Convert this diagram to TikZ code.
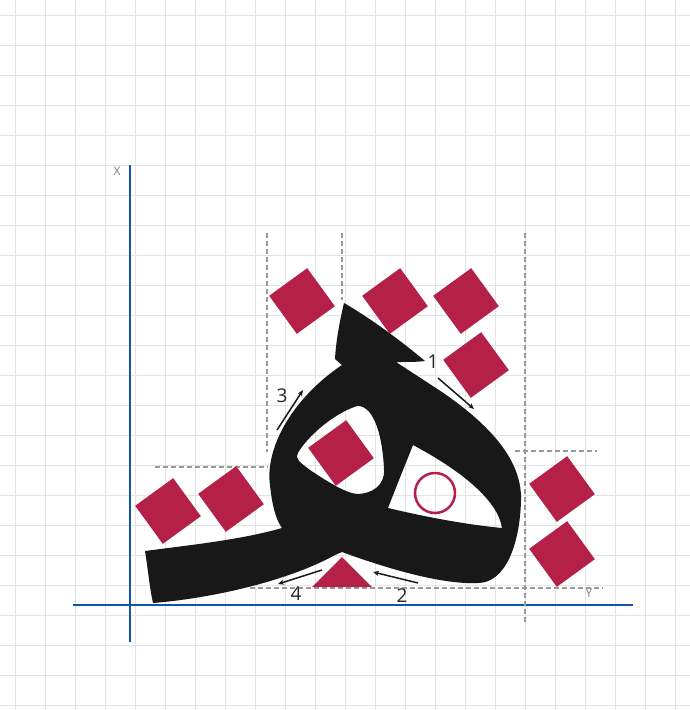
\documentclass[tikz,border=0pt]{standalone}
\usepackage{fontspec}
\setmainfont{Open Sans}
\usetikzlibrary{arrows.meta}
\begin{document}
\begin{tikzpicture}[x=1pt,y=-1pt,
  guide/.style={draw=gray!80,line width=1.1pt,dash pattern=on 5pt off 3pt},
  arr/.style={-{Stealth[length=6pt,width=5pt]},line width=1.5pt,draw=black!90},
  num/.style={font=\fontsize{19}{19}\selectfont,text=black!85,inner sep=0pt}]
\definecolor{crim}{HTML}{B52048}
\definecolor{ink}{HTML}{181818}
\definecolor{axis}{HTML}{0B57A8}
\path[use as bounding box,fill=white] (0,0) rectangle (690,710);
\foreach \i in {15,45,...,675} {\draw[gray!22,line width=0.8pt] (\i,0) -- (\i,710);}
\foreach \i in {15,45,...,705} {\draw[gray!22,line width=0.8pt] (0,\i) -- (690,\i);}
% axes
\draw[axis,line width=1.8pt] (130,165) -- (130,642);
\draw[axis,line width=1.8pt] (73,605) -- (633,605);
\node[text=gray,font=\fontsize{12}{12}\selectfont] (xl) at (117,171) {X};
\node[text=gray,font=\fontsize{12}{12}\selectfont] (yl) at (589,593) {Y};
% guides
\draw[guide] (267,233) -- (267,452);
\draw[guide] (342,233) -- (342,300);
\draw[guide] (525,233) -- (525,625);
\draw[guide] (155,467) -- (268,467);
\draw[guide] (515,451) -- (597,451);
\draw[guide] (250,588) -- (603,588);
% diamonds
\foreach \cx/\cy in {302/301,395/301,466/301,476/365,341/453,168/511,231/499,562/489,562/554}
  {\fill[crim,rotate around={36:(\cx,\cy)}] (\cx-23.5,\cy-23.5) rectangle (\cx+23.5,\cy+23.5);}
% letter
\fill[ink,even odd rule]
  (153,603) .. controls (215,598) and (290,580) .. (335,555)
  -- (342,552) .. controls (380,566) and (440,585) .. (478,583)
  .. controls (505,583) and (520,545) .. (521,500)
  .. controls (522,460) and (490,425) .. (442,392)
  -- (396,362)
  .. controls (408,362) and (418,362) .. (425,361)
  .. controls (400,340) and (370,318) .. (344,303)
  .. controls (340,320) and (336,340) .. (335,359)
  -- (342,365)
  .. controls (290,400) and (265,450) .. (270,485)
  .. controls (272,505) and (276,520) .. (282,528)
  .. controls (240,540) and (190,545) .. (145,551)
  .. controls (148,570) and (150,590) .. (153,603) -- cycle
  (357,406) .. controls (330,415) and (305,440) .. (298,453)
  .. controls (295,460) and (300,462) .. (310,470)
  .. controls (325,480) and (345,493) .. (357,494)
  .. controls (372,494) and (385,485) .. (384,470)
  .. controls (383,440) and (375,405) .. (357,406) -- cycle
  (413,445) .. controls (405,465) and (395,490) .. (388,508)
  .. controls (430,518) and (470,525) .. (502,528)
  .. controls (498,500) and (460,470) .. (413,445) -- cycle;
\draw[crim,line width=2.5pt] (435,493) circle (20);
\fill[crim] (342,557) -- (372,587) -- (312,587) -- cycle;
% arrows
\coordinate (a1s) at (438,378); \coordinate (a1e) at (474,409);
\coordinate (a2s) at (418,583); \coordinate (a2e) at (373,572);
\coordinate (a3s) at (277,430); \coordinate (a3e) at (303,390);
\coordinate (a4s) at (322,570); \coordinate (a4e) at (278,584);
\draw[arr] (a1s) -- (a1e);
\draw[arr] (a2s) -- (a2e);
\draw[arr] (a3s) -- (a3e);
\draw[arr] (a4s) -- (a4e);
\node[num] (n1) at (433,362) {1};
\node[num] (n2) at (402,596) {2};
\node[num] (n3) at (282,396) {3};
\node[num] (n4) at (296,594) {4};
\end{tikzpicture}
\end{document}
